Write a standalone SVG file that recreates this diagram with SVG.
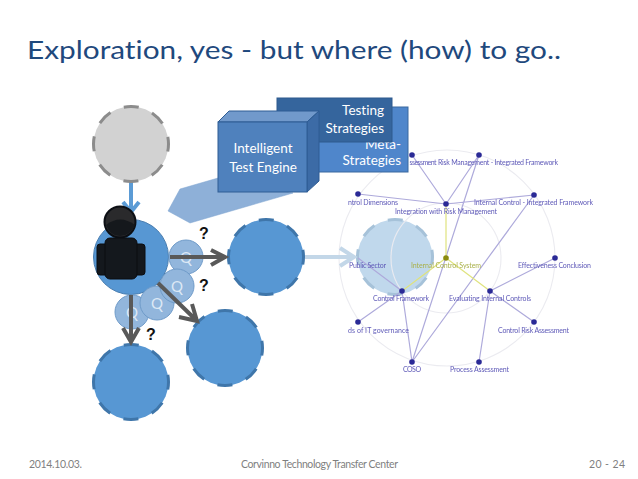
<svg xmlns="http://www.w3.org/2000/svg" width="638" height="479" viewBox="0 0 638 479">
<defs>
<filter id="b" x="-5%" y="-5%" width="110%" height="110%"><feGaussianBlur stdDeviation="0.4"/></filter>
</defs>
<style>
text{font-family:"Lato","Liberation Sans",sans-serif;font-variant-ligatures:none}
.foot{font-size:10.5px;fill:#7f7f7f}
.w{font-size:13.5px;fill:#fff;text-anchor:middle}
.we{font-size:13.5px;fill:#fff;text-anchor:end}
.net{font-size:7px;fill:#5f5ab8;text-anchor:middle}
.nd{fill:#2c2a96}
.e{stroke:#aeaadb;stroke-width:1.2;fill:none}
.y{stroke:#dfe37e;stroke-width:1.2;fill:none}
.arc{stroke:#ebebf0;stroke-width:1.1;fill:none}
.blue{fill:#5797d3;stroke:#3f76aa;stroke-width:3;stroke-dasharray:15 14.45;stroke-dashoffset:7.5}
.q{fill:#92b6dc;stroke:#6f9bc9;stroke-width:1}
.qt{font-size:15px;fill:#dce8f5;text-anchor:middle}
.ar{stroke:#595959;stroke-width:4;fill:none}
.qm{font-family:"Liberation Sans",sans-serif;font-size:16px;font-weight:bold;fill:#111;text-anchor:middle}
</style>
<text x="27" y="59" font-size="25.5" fill="#1f497d" textLength="534" lengthAdjust="spacingAndGlyphs">Exploration, yes - but where (how) to go..</text>
<g id="faded"><circle cx="395" cy="257" r="37.5" fill="#c0d8ec" stroke="#a6c2d9" stroke-width="3" stroke-dasharray="15 14.45" stroke-dashoffset="7.5"/></g>
<g id="network" filter="url(#b)">
<circle class="arc" cx="447" cy="258" r="108"/>
<circle class="arc" cx="446" cy="258" r="55"/>
<g class="e">
<path d="M412 155L446 204M479 155L446 204M479 155L412 362M358 194L446 204M534 195L446 204M534 195L412 362M555 258L490 291M490 291L534 322M490 291L479 362M402 291L412 362M402 291L358 322M358 258L402 291"/>
</g>
<g class="y"><path d="M446 204V258M446 258L402 291M446 258L490 291"/></g>
<g class="nd">
<circle cx="412" cy="155" r="2.8"/><circle cx="479" cy="155" r="2.8"/><circle cx="358" cy="194" r="2.8"/><circle cx="446" cy="204" r="2.8"/><circle cx="534" cy="195" r="2.8"/><circle cx="555" cy="258" r="2.8"/><circle cx="402" cy="291" r="2.8"/><circle cx="490" cy="291" r="2.8"/><circle cx="358" cy="322" r="2.8"/><circle cx="534" cy="322" r="2.8"/><circle cx="412" cy="362" r="2.8"/><circle cx="479" cy="362" r="2.8"/>
</g>
<circle cx="446" cy="258" r="2.8" fill="#8b8b10"/>
<text class="net" x="498" y="165" textLength="120">Risk Management - Integrated Framework</text>
<text class="net" x="423" y="165" textLength="27">ssessment</text>
<text class="net" x="373" y="205" textLength="50">ntrol Dimensions</text>
<text class="net" x="533.5" y="205" textLength="119">Internal Control - Integrated Framework</text>
<text class="net" x="446" y="214" textLength="102">Integration with Risk Management</text>
<text class="net" x="367.5" y="268" textLength="37">Public Sector</text>
<text class="net" x="446" y="268" textLength="70" style="fill:#a9b04a">Internal Control System</text>
<text class="net" x="554.5" y="268" textLength="73">Effectiveness Conclusion</text>
<text class="net" x="401" y="301" textLength="56">Control Framework</text>
<text class="net" x="490" y="301" textLength="82">Evaluating Internal Controls</text>
<text class="net" x="378.5" y="333" textLength="61">ds of IT governance</text>
<text class="net" x="533.5" y="333" textLength="71">Control Risk Assessment</text>
<text class="net" x="412" y="372" textLength="18">COSO</text>
<text class="net" x="479.5" y="372" textLength="59">Process Assessment</text>
</g>
<g id="connectors">
<path d="M131 182V211M123 202L131 212L139 202" stroke="#5b9bd5" stroke-width="4" fill="none"/>
<path d="M305 257H354M340 248L354 257L340 266" stroke="#c3d7e8" stroke-width="4" fill="none"/>
<path id="pointer" d="M168 211L180 189L218 178L293 193L190 223Z" fill="#8eb0d8" stroke="#7fa5d0" stroke-width="0.5"/>
</g>
<g id="gray"><circle cx="131" cy="144" r="37.5" fill="#d2d2d2" stroke="#8c8c8c" stroke-width="3" stroke-dasharray="15 14.45" stroke-dashoffset="7.5"/></g>
<g id="user-node"><circle cx="131" cy="257" r="37.5" fill="#5797d3" stroke="#4a7eb0" stroke-width="1"/></g>
<g id="t1"><circle cx="266" cy="257" r="37.5" class="blue"/></g>
<g id="t2"><circle cx="225" cy="348" r="37.5" class="blue"/></g>
<g id="t3"><circle cx="131" cy="382" r="37.5" class="blue"/></g>
<g id="questions">
<circle class="q" cx="186" cy="257" r="17"/><text class="qt" x="186" y="263">Q</text>
<circle class="q" cx="132" cy="312" r="17"/><text class="qt" x="132" y="318">Q</text>
<circle class="q" cx="157" cy="303" r="17"/><text class="qt" x="157" y="309">Q</text>
<circle class="q" cx="177" cy="286" r="17"/><text class="qt" x="177" y="292">Q</text>
</g>
<g id="grey-arrows">
<path class="ar" d="M170 257H224M211 250L225 257L211 265"/>
<path class="ar" d="M158 283L196 320M179 317L197 321L192 304"/>
<path class="ar" d="M131 295V342M123 328L131 342L139 328"/>
</g>
<text class="qm" x="204" y="239">?</text>
<text class="qm" x="204" y="291">?</text>
<text class="qm" x="151" y="340">?</text>
<g id="person">
<circle cx="120" cy="222" r="15.5" fill="#2a2a2c" stroke="#0c0f14" stroke-width="2"/>
<path d="M106 225Q120 214 135 225Q130 236 120 236Q110 236 106 225Z" fill="#15181c"/>
<rect x="97" y="244" width="12" height="31" rx="3" fill="#14181d" stroke="#0a0c10"/>
<rect x="133" y="244" width="12" height="31" rx="3" fill="#14181d" stroke="#0a0c10"/>
<rect x="105" y="238" width="32" height="41" rx="5" fill="#14181d" stroke="#0a0c10"/>
</g>
<g id="meta">
<rect x="311" y="107" width="97" height="65" fill="#4f86cb" stroke="#3a689f" stroke-width="1"/>
<text class="we" x="401" y="149">Meta-</text>
<text class="we" x="401" y="165">Strategies</text>
</g>
<g id="testing">
<rect x="277" y="98" width="115" height="44" fill="#35659d" stroke="#2e5a8e" stroke-width="1"/>
<text class="we" x="384" y="115">Testing</text>
<text class="we" x="384" y="133">Strategies</text>
</g>
<g id="engine">
<path d="M218 122L229 111H319L307 122Z" fill="#7199cb" stroke="#2f5d94"/>
<path d="M307 122L319 111V181L307 192Z" fill="#3c6ba6" stroke="#2f5d94"/>
<rect x="218" y="122" width="89" height="70" fill="#4f81bd" stroke="#2f5d94"/>
<text class="w" x="263" y="153">Intelligent</text>
<text class="w" x="263" y="172">Test Engine</text>
</g>
<text class="foot" x="29" y="468" textLength="53">2014.10.03.</text>
<text class="foot" x="241" y="468" textLength="157">Corvinno Technology Transfer Center</text>
<text class="foot" x="589" y="468" textLength="36">20 -  24</text>
</svg>
